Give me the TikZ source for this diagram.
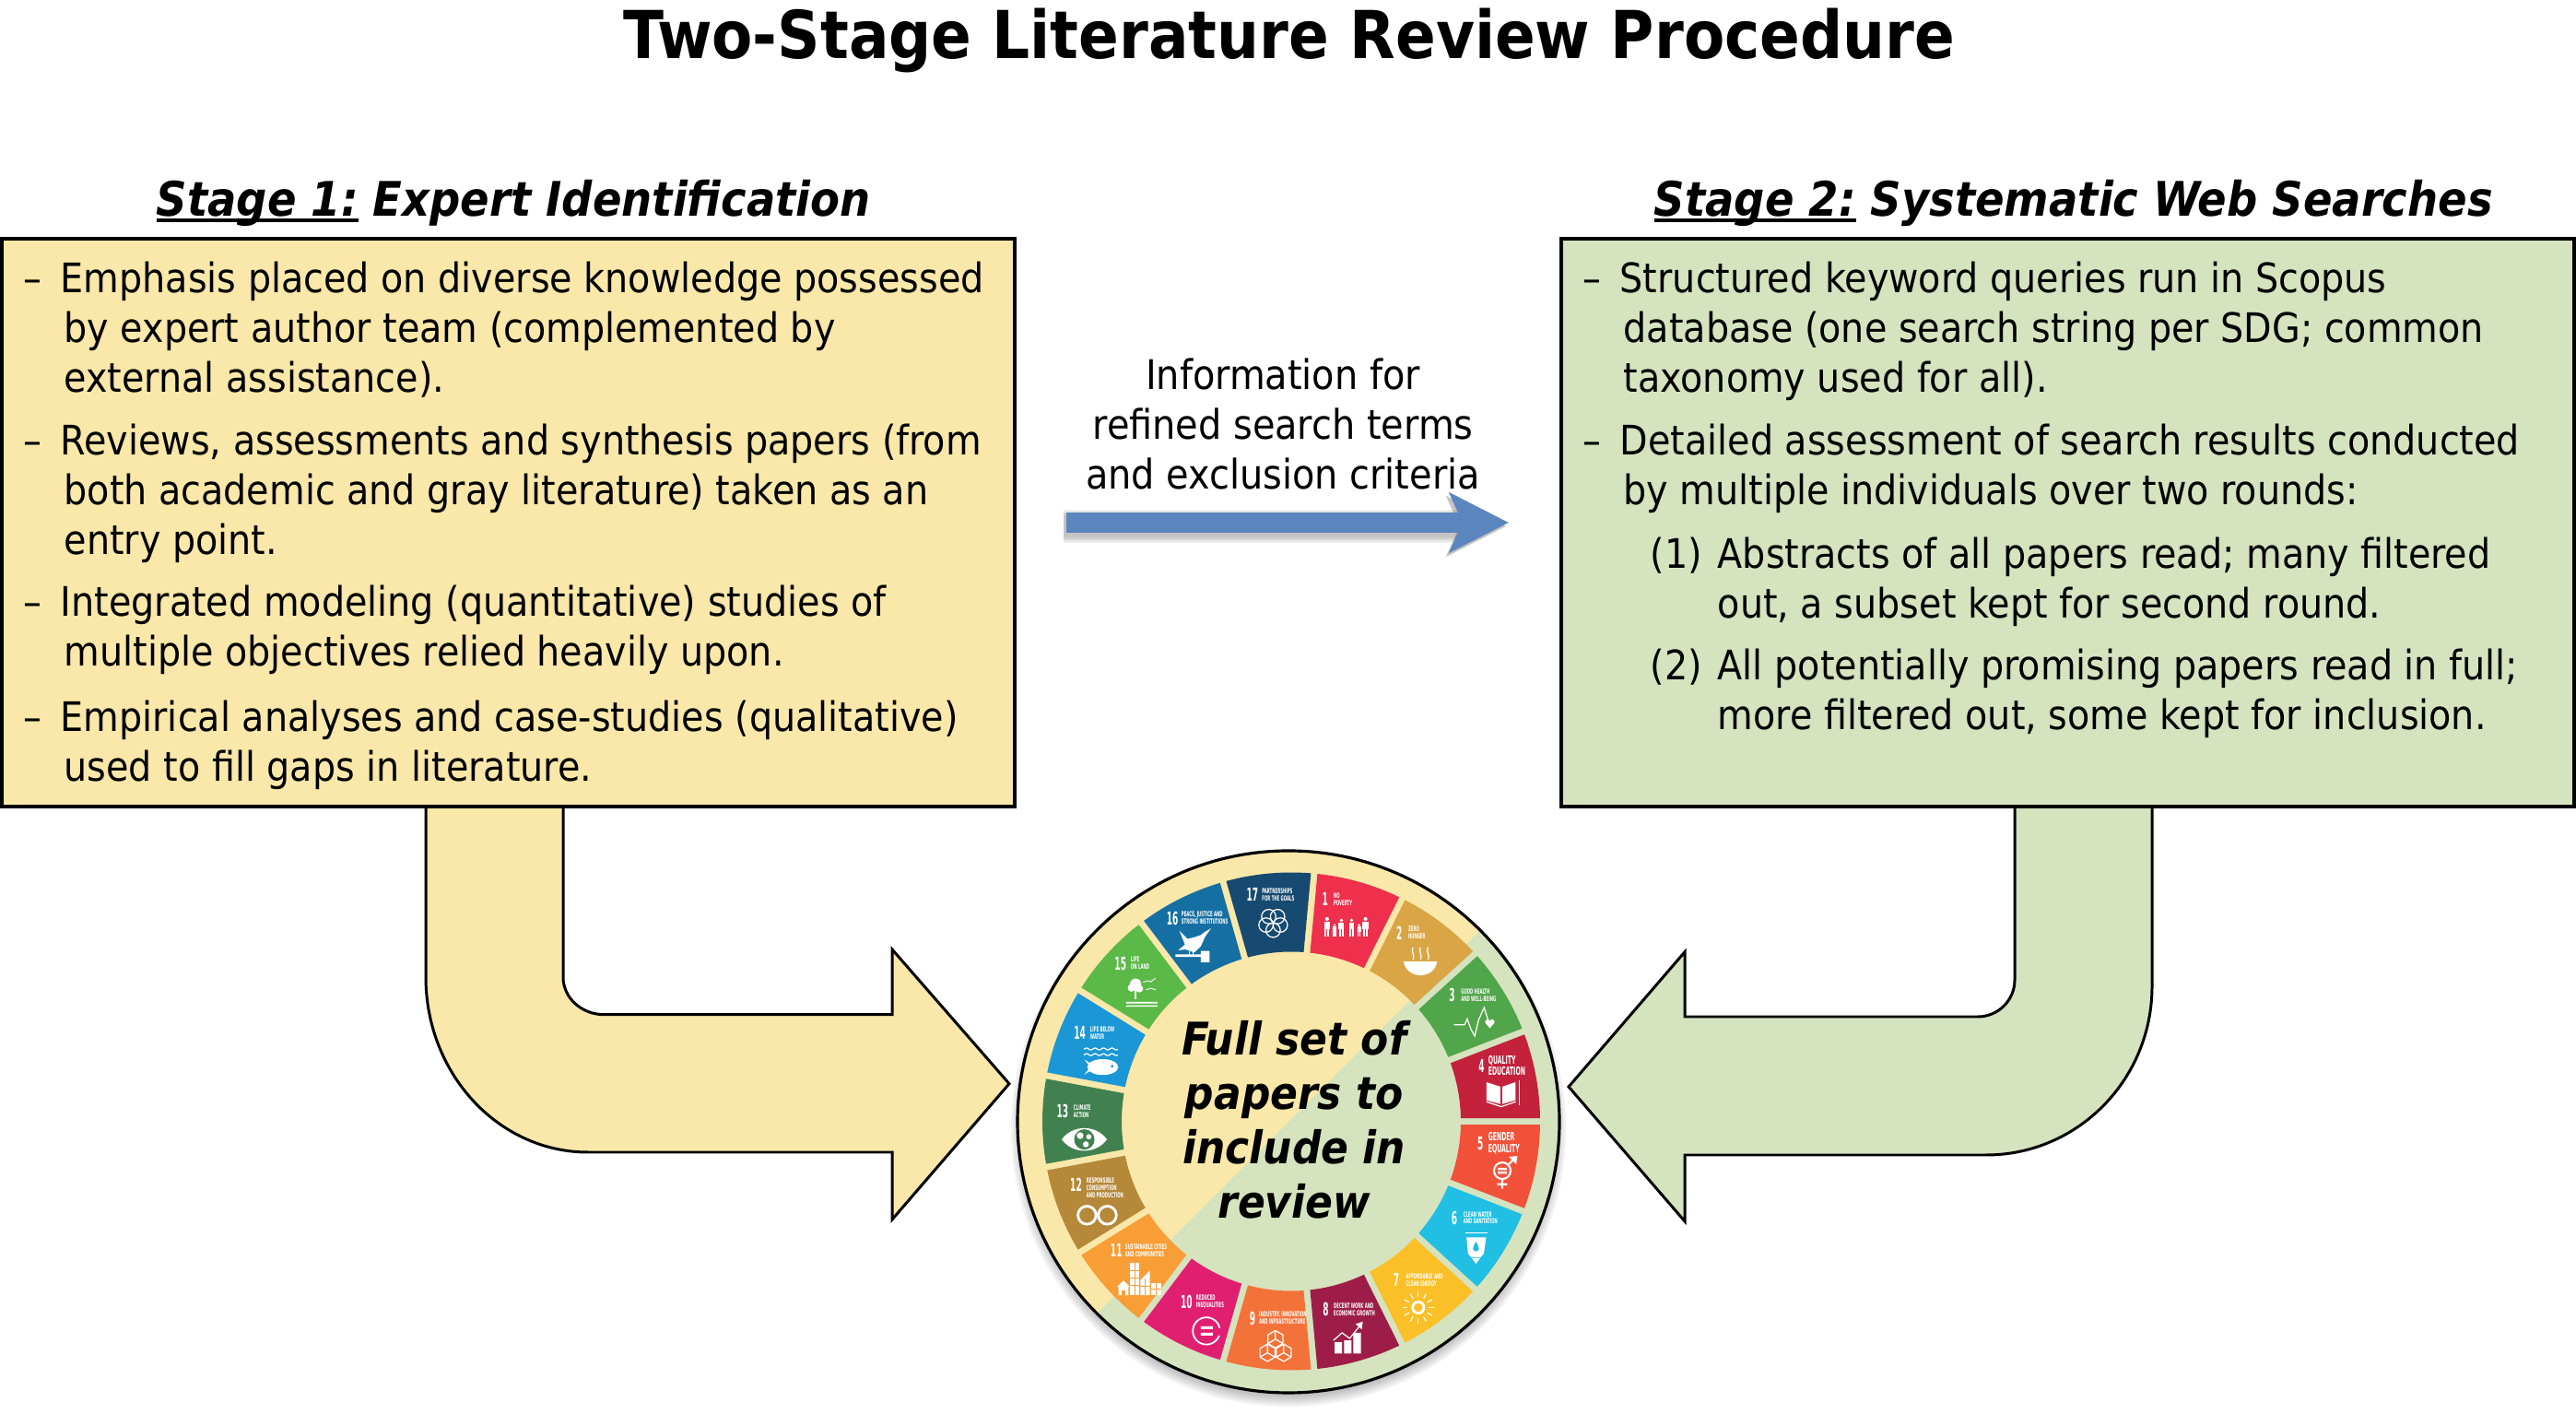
\documentclass[tikz,border=0pt]{standalone}
\usepackage{fontspec}
\setmainfont{DejaVu Sans Condensed}
\newfontfamily\tilefont[FakeStretch=.56]{DejaVu Sans Condensed}
\newfontfamily\tilenumfont[FakeStretch=.52]{DejaVu Sans Condensed}
\usepackage{tikz}
\usetikzlibrary{arrows.meta}
\usetikzlibrary{positioning}

\definecolor{stageyellow}{HTML}{F9E8A9}
\definecolor{stagegreen}{HTML}{D5E3BF}
\definecolor{infoblue}{HTML}{5B86BE}
\definecolor{sdg1}{HTML}{EE304C}
\definecolor{sdg2}{HTML}{DAA545}
\definecolor{sdg3}{HTML}{51A54A}
\definecolor{sdg4}{HTML}{C4213C}
\definecolor{sdg5}{HTML}{F15139}
\definecolor{sdg6}{HTML}{20BFE3}
\definecolor{sdg7}{HTML}{FBBF27}
\definecolor{sdg8}{HTML}{9D1D48}
\definecolor{sdg9}{HTML}{F37239}
\definecolor{sdg10}{HTML}{E11F71}
\definecolor{sdg11}{HTML}{F99D36}
\definecolor{sdg12}{HTML}{B5883A}
\definecolor{sdg13}{HTML}{41804F}
\definecolor{sdg14}{HTML}{1C97D5}
\definecolor{sdg15}{HTML}{5BBA47}
\definecolor{sdg16}{HTML}{156FA3}
\definecolor{sdg17}{HTML}{174A70}

\newcommand{\dashlead}{\makebox[11.4pt][l]{–}}
\newcommand{\dashcont}{\hspace*{12.5pt}}
\newcommand{\sublead}[1]{\makebox[20.8pt][l]{#1}}
\newcommand{\subcont}{\hspace*{20.8pt}}
\newcommand{\stagemark}[1]{\setbox0=\hbox{#1}\rlap{\rule[-1.7pt]{\wd0}{1.1pt}}\box0\relax}

\begin{document}
\begin{tikzpicture}[
        stagebox/.style={rectangle, draw=black, line width=1pt, inner sep=0pt, anchor=north west, minimum width=10.99cm, minimum height=6.16cm},
        flowarrow/.style={draw=black, line width=.85pt},
        bullet/.style={anchor=north west, inner sep=0pt, align=left, font=\fontsize{12.55}{15.4}\selectfont, execute at begin node=\strut},
        infotext/.style={anchor=north, inner sep=0pt, align=center, font=\fontsize{12.6}{15.4}\selectfont, execute at begin node=\strut},
        stagehead/.style={anchor=base west, inner sep=0pt, font=\fontsize{14.7}{17}\selectfont\bfseries\itshape},
        hubtext/.style={anchor=north, inner sep=0pt, align=center, font=\fontsize{13.9}{16.8}\selectfont\bfseries\itshape, execute at begin node=\strut},
        infoarrow/.style={line width=.22cm, -{Stealth[length=6.4mm, width=6.4mm, inset=1.4mm]}},
        tilenum/.style={white, inner sep=0pt, font=\tilenumfont\bfseries\fontsize{5.5}{6}\selectfont},
        tiletext/.style={white, anchor=west, inner sep=0pt, align=left, font=\tilefont\bfseries\fontsize{2.2}{2.27}\selectfont},
        tilebig/.style={white, anchor=west, inner sep=0pt, align=left, font=\tilefont\bfseries\fontsize{3.5}{3.6}\selectfont},
        icon/.style={draw=white, line width=.35pt},
        iconfill/.style={fill=white}
      ]
        \useasboundingbox (0,0) rectangle (27.95,15.33);

        \node[anchor=base, inner sep=0pt, font=\fontsize{20.4}{26}\selectfont\bfseries] (title) at (13.99,14.69) {Two-Stage Literature Review Procedure};

        \draw[flowarrow, fill=stageyellow] (4.62,6.6) -- (4.62,4.73) arc[start angle=180, end angle=270, x radius=1.76, y radius=1.90]
          -- (9.68,2.83) -- (9.68,2.10) -- (10.95,3.573) -- (9.68,5.03) -- (9.68,4.323) -- (6.555,4.323)
          arc[start angle=270, end angle=180, x radius=.445, y radius=.407] -- (6.11,6.6) -- cycle;
        \draw[flowarrow, fill=stagegreen] (23.35,6.6) -- (23.35,4.63) arc[start angle=0, end angle=-90, x radius=1.80, y radius=1.83]
          -- (18.28,2.80) -- (18.28,2.08) -- (17.02,3.54) -- (18.28,5.003) -- (18.28,4.30) -- (21.46,4.30)
          arc[start angle=-90, end angle=0, x radius=.40, y radius=.40] -- (21.86,6.6) -- cycle;

        \node[stagebox, fill=stageyellow]  (stageone)  at (0,12.757)  {};
        \node[stagebox, fill=stagegreen]   (stagetwo)  at (16.92,12.757) {};

        \node[stagehead]  (headone)  at (1.69,12.98)   {\stagemark{Stage 1:} Expert Identification};
        \node[stagehead]  (headtwo)  at (17.94,12.98)  {\stagemark{Stage 2:} Systematic Web Searches};

        \node[bullet] (onea) at (.25,12.50)  {\dashlead Emphasis placed on diverse knowledge possessed\\\dashcont by expert author team (complemented by\\\dashcont external assistance).};
        \node[bullet] (oneb) at (.25,10.735)  {\dashlead Reviews, assessments and synthesis papers (from\\\dashcont both academic and gray literature) taken as an\\\dashcont entry point.};
        \node[bullet] (onec) at (.25,8.985)   {\dashlead Integrated modeling (quantitative) studies of\\\dashcont multiple objectives relied heavily upon.};
        \node[bullet] (oned) at (.25,7.735)   {\dashlead Empirical analyses and case-studies (qualitative)\\\dashcont used to fill gaps in literature.};

        \node[bullet] (twoa) at (17.17,12.50)  {\dashlead Structured keyword queries run in Scopus\\\dashcont database (one search string per SDG; common\\\dashcont taxonomy used for all).};
        \node[bullet] (twob) at (17.17,10.735)  {\dashlead Detailed assessment of search results conducted\\\dashcont by multiple individuals over two rounds:};
        \node[bullet] (twoc) at (17.90,9.507)   {\sublead{(1)}Abstracts of all papers read; many filtered\\\subcont out, a subset kept for second round.};
        \node[bullet] (twod) at (17.90,8.30)   {\sublead{(2)}All potentially promising papers read in full;\\\subcont more filtered out, some kept for inclusion.};

        \node[infotext] (info) at (13.92,11.45) {Information for\\refined search terms\\and exclusion criteria};
        \coordinate (infostart) at (11.57,9.66);
        \coordinate (infoend)   at (16.37,9.66);
        \foreach \s in {1,...,5}
          \draw[infoarrow, black, opacity=.05, line width=.22cm+\s*.8pt] ([shift={(-.03,-.04)}]infostart) -- ([shift={(-.03,-.04)}]infoend);
        \draw[infoarrow, infoblue] (infostart) -- (infoend);

        \foreach \s in {1,...,6}
          \fill[black, opacity=.05] (13.98,3.08) circle (2.86+\s*.025);
        \node[circle, fill=stagegreen, inner sep=0pt, minimum size=5.88cm] (wheel) at (13.98,3.16) {};
        \begin{scope}[shift={(wheel.center)}]
          \fill[stageyellow] (45:2.94) arc (45:225:2.94) -- cycle;
          \draw[black, line width=.9pt] (0,0) circle (2.94);
          \foreach \n in {1,...,17} {
            \pgfmathsetmacro{\a}{84.7-(\n-1)*21.176}
            \pgfmathsetmacro{\b}{\a-21.176}
            \fill[sdg\n, shift={(.03,.005)}] (\a-.74:2.70) arc (\a-.74:\b+.74:2.70) -- (\b+1.09:1.84) arc (\b+1.09:\a-1.09:1.84) -- cycle;
          }
        \end{scope}

        \begin{scope}[shift={(10.8,6.33)}, x=.004082cm, y=-.004082cm]
          \node[hubtext] (hub) at (793,506) {Full set of\\papers to\\include in\\review};

          \foreach \n/\nx/\ny/\tx/\ty/\txt in {
              1/875/185/896/186/{NO\\POVERTY},
              2/1072/275/1094/274/{ZERO\\HUNGER},
              3/1212/438/1234/439/{GOOD HEALTH\\AND WELL-BEING},
              6/1218/1030/1240/1030/{CLEAN WATER\\AND SANITATION},
              7/1064/1194/1088/1194/{AFFORDABLE AND\\CLEAN ENERGY},
              8/877/1274/896/1274/{DECENT WORK AND\\ECONOMIC GROWTH},
              9/682/1297/698/1296/{INDUSTRY, INNOVATION\\AND INFRASTRUCTURE},
              10/507/1253/531/1253/{REDUCED\\INEQUALITIES},
              11/321/1117/343/1116/{SUSTAINABLE CITIES\\AND COMMUNITIES},
              12/214/942/240/951/{RESPONSIBLE\\CONSUMPTION\\AND PRODUCTION},
              13/178/748/206/748/{CLIMATE\\ACTION},
              14/224/540/250/540/{LIFE BELOW\\WATER},
              15/332/355/358/355/{LIFE\\ON LAND},
              16/470/235/492/235/{PEACE, JUSTICE AND\\STRONG INSTITUTIONS},
              17/682/173/706/172/{PARTNERSHIPS\\FOR THE GOALS}} {
            \node[tilenum]  (num\n)  at (\nx,\ny)  {\n};
            \node[tiletext] (txt\n)  at (\tx,\ty)  {\txt};
          }
          \node[tilenum] (num4) at (1290,628) {4};
          \node[tilebig] (txt4) at (1306,626) {QUALITY\\EDUCATION};
          \node[tilenum] (num5) at (1287,832) {5};
          \node[tilebig] (txt5) at (1306,832) {GENDER\\EQUALITY};

          \foreach \px/\py/\ps in {880/232/1, 900/250/.65, 918/236/.9, 945/236/.9, 965/250/.65, 982/232/1} {
            \fill[iconfill] (\px,\py+5*\ps) circle (5*\ps);
            \fill[iconfill] (\px-8*\ps,\py+12*\ps) rectangle (\px+8*\ps,\py+32*\ps);
            \fill[iconfill] (\px-6*\ps,\py+32*\ps) rectangle (\px-1*\ps,\py+52*\ps);
            \fill[iconfill] (\px+1*\ps,\py+32*\ps) rectangle (\px+6*\ps,\py+52*\ps);
          }

          \fill[iconfill] (1083,350) -- (1172,350) .. controls (1168,375) and (1150,385) .. (1128,387) .. controls (1106,385) and (1088,375) .. (1083,350) -- cycle;
          \foreach \sx in {1108,1128,1148}
            \draw[icon] (\sx,312) .. controls (\sx-7,322) and (\sx+7,335) .. (\sx,345);

          \draw[icon] (1216,518) -- (1245,518) -- (1252,502) -- (1262,530) -- (1272,548) -- (1282,505) -- (1297,472) -- (1308,508);
          \fill[iconfill] (1306,510) circle (6.5) (1318,510) circle (6.5);
          \fill[iconfill] (1300,513) -- (1324,513) -- (1312,527) -- cycle;

          \fill[iconfill] (1303,670) -- (1340,682) -- (1340,728) -- (1303,718) -- cycle;
          \fill[iconfill] (1345,682) -- (1380,670) -- (1380,718) -- (1345,728) -- cycle;
          \draw[icon] (1303,722) -- (1342,735) -- (1381,722);
          \draw[icon, line width=.45pt] (1390,665) -- (1390,732);

          \draw[icon, line width=.6pt] (1345,905) circle (22);
          \fill[iconfill] (1333,897) rectangle (1357,903) (1333,907) rectangle (1357,913);
          \draw[icon, line width=.6pt] (1345,927) -- (1345,953) (1332,941) -- (1358,941) (1361,889) -- (1378,872);
          \fill[iconfill] (1362,868) -- (1385,866) -- (1382,888) -- cycle;

          \fill[iconfill] (1247,1068) rectangle (1305,1072);
          \fill[iconfill] (1250,1082) -- (1302,1082) -- (1296,1125) -- (1287,1135) -- (1263,1135) -- (1254,1125) -- cycle;
          \fill[iconfill] (1264,1137) -- (1286,1137) -- (1275,1152) -- cycle;
          \fill[sdg6] (1275,1111) circle (8);
          \fill[sdg6] (1268,1106) -- (1282,1106) -- (1275,1093) -- cycle;

          \draw[icon, line width=.8pt] (1122,1268) circle (15);
          \foreach \r in {0,30,...,330}
            \draw[icon] (1122,1268) ++(\r:28) -- ++(\r:14);

          \fill[iconfill] (900,1360) rectangle (920,1390) (925,1355) rectangle (945,1390) (950,1335) rectangle (970,1390);
          \draw[icon] (897,1355) -- (920,1335) -- (940,1350) -- (968,1315);
          \fill[iconfill] (975,1305) -- (956,1312) -- (972,1326) -- cycle;

          \foreach \cx/\cy in {743/1352, 722/1388, 765/1388} {
            \fill[sdg9, shift={(\cx,\cy)}] (30:23) -- (90:23) -- (150:23) -- (210:23) -- (270:23) -- (330:23) -- cycle;
            \draw[icon, shift={(\cx,\cy)}] (30:23) -- (90:23) -- (150:23) -- (210:23) -- (270:23) -- (330:23) -- cycle (0,0) -- (150:23) (0,0) -- (30:23) (0,0) -- (270:23);
          }

          \draw[icon, line width=.5pt] (595,1322) arc (-13:-340:36);
          \fill[iconfill] (545,1318) rectangle (577,1325) (545,1335) rectangle (577,1342);

          \fill[iconfill] (327,1235) rectangle (353,1212) (323,1213) -- (340,1196) -- (357,1213) -- cycle;
          \fill[iconfill] (356,1150) rectangle (382,1235);
          \fill[iconfill] (385,1235) -- (385,1195) -- (410,1170) -- (410,1235) -- cycle;
          \fill[iconfill] (413,1203) rectangle (440,1235);
          \draw[sdg11, line width=.2pt] (369,1150) -- (369,1235) (356,1170) -- (382,1170) (356,1190) -- (382,1190) (356,1210) -- (382,1210)
            (398,1190) -- (398,1235) (385,1212) -- (410,1212) (413,1218) -- (440,1218) (426,1203) -- (426,1235);
          \fill[sdg11] (336,1222) rectangle (344,1235);

          \draw[icon, line width=.8pt] (243,1023) circle (24) (297,1023) circle (24);

          \fill[iconfill] (176,822) .. controls (205,782) and (267,782) .. (296,822) .. controls (267,862) and (205,862) .. (176,822) -- cycle;
          \fill[sdg13] (236,822) circle (27);
          \fill[iconfill] (225,812) circle (9) (248,815) circle (7) (240,835) circle (8);

          \foreach \wy in {582,597}
            \draw[icon] plot[domain=235:325, samples=31, variable=\wx] (\wx,{\wy+2.5*sin(16*\wx)});
          \fill[iconfill] (285,630) ellipse (41 and 21) (236,650) -- (252,630) -- (236,610) -- (258,624) -- (258,636) -- cycle;
          \fill[sdg14] (310,628) circle (4);

          \fill[iconfill] (372,410) circle (15) (361,420) circle (10) (382,422) circle (10);
          \fill[iconfill] (370,425) rectangle (375,450);
          \fill[iconfill] (347,457) rectangle (430,461) (347,466) rectangle (430,470);
          \draw[icon, line width=.25pt] (392,405) -- (405,401) -- (412,404) -- (425,394) (400,425) -- (412,421) -- (426,425);

          \fill[iconfill] (488,268) -- (510,290) -- (530,285) -- (545,280) -- (555,272) -- (572,262) -- (556,285) -- (545,310) -- (528,326) -- (505,318) -- (485,320) -- (503,305) -- (497,290) -- cycle;
          \fill[iconfill] (478,331) rectangle (545,338) (545,322) rectangle (568,352);
          \draw[icon, line width=.25pt] (515,322) -- (515,332) (525,322) -- (525,332);

          \foreach \r in {90,162,234,306,378}
            \draw[icon, shift={(737,247)}] (\r:20) circle (19);
        \end{scope}
      \end{tikzpicture}
\end{document}
